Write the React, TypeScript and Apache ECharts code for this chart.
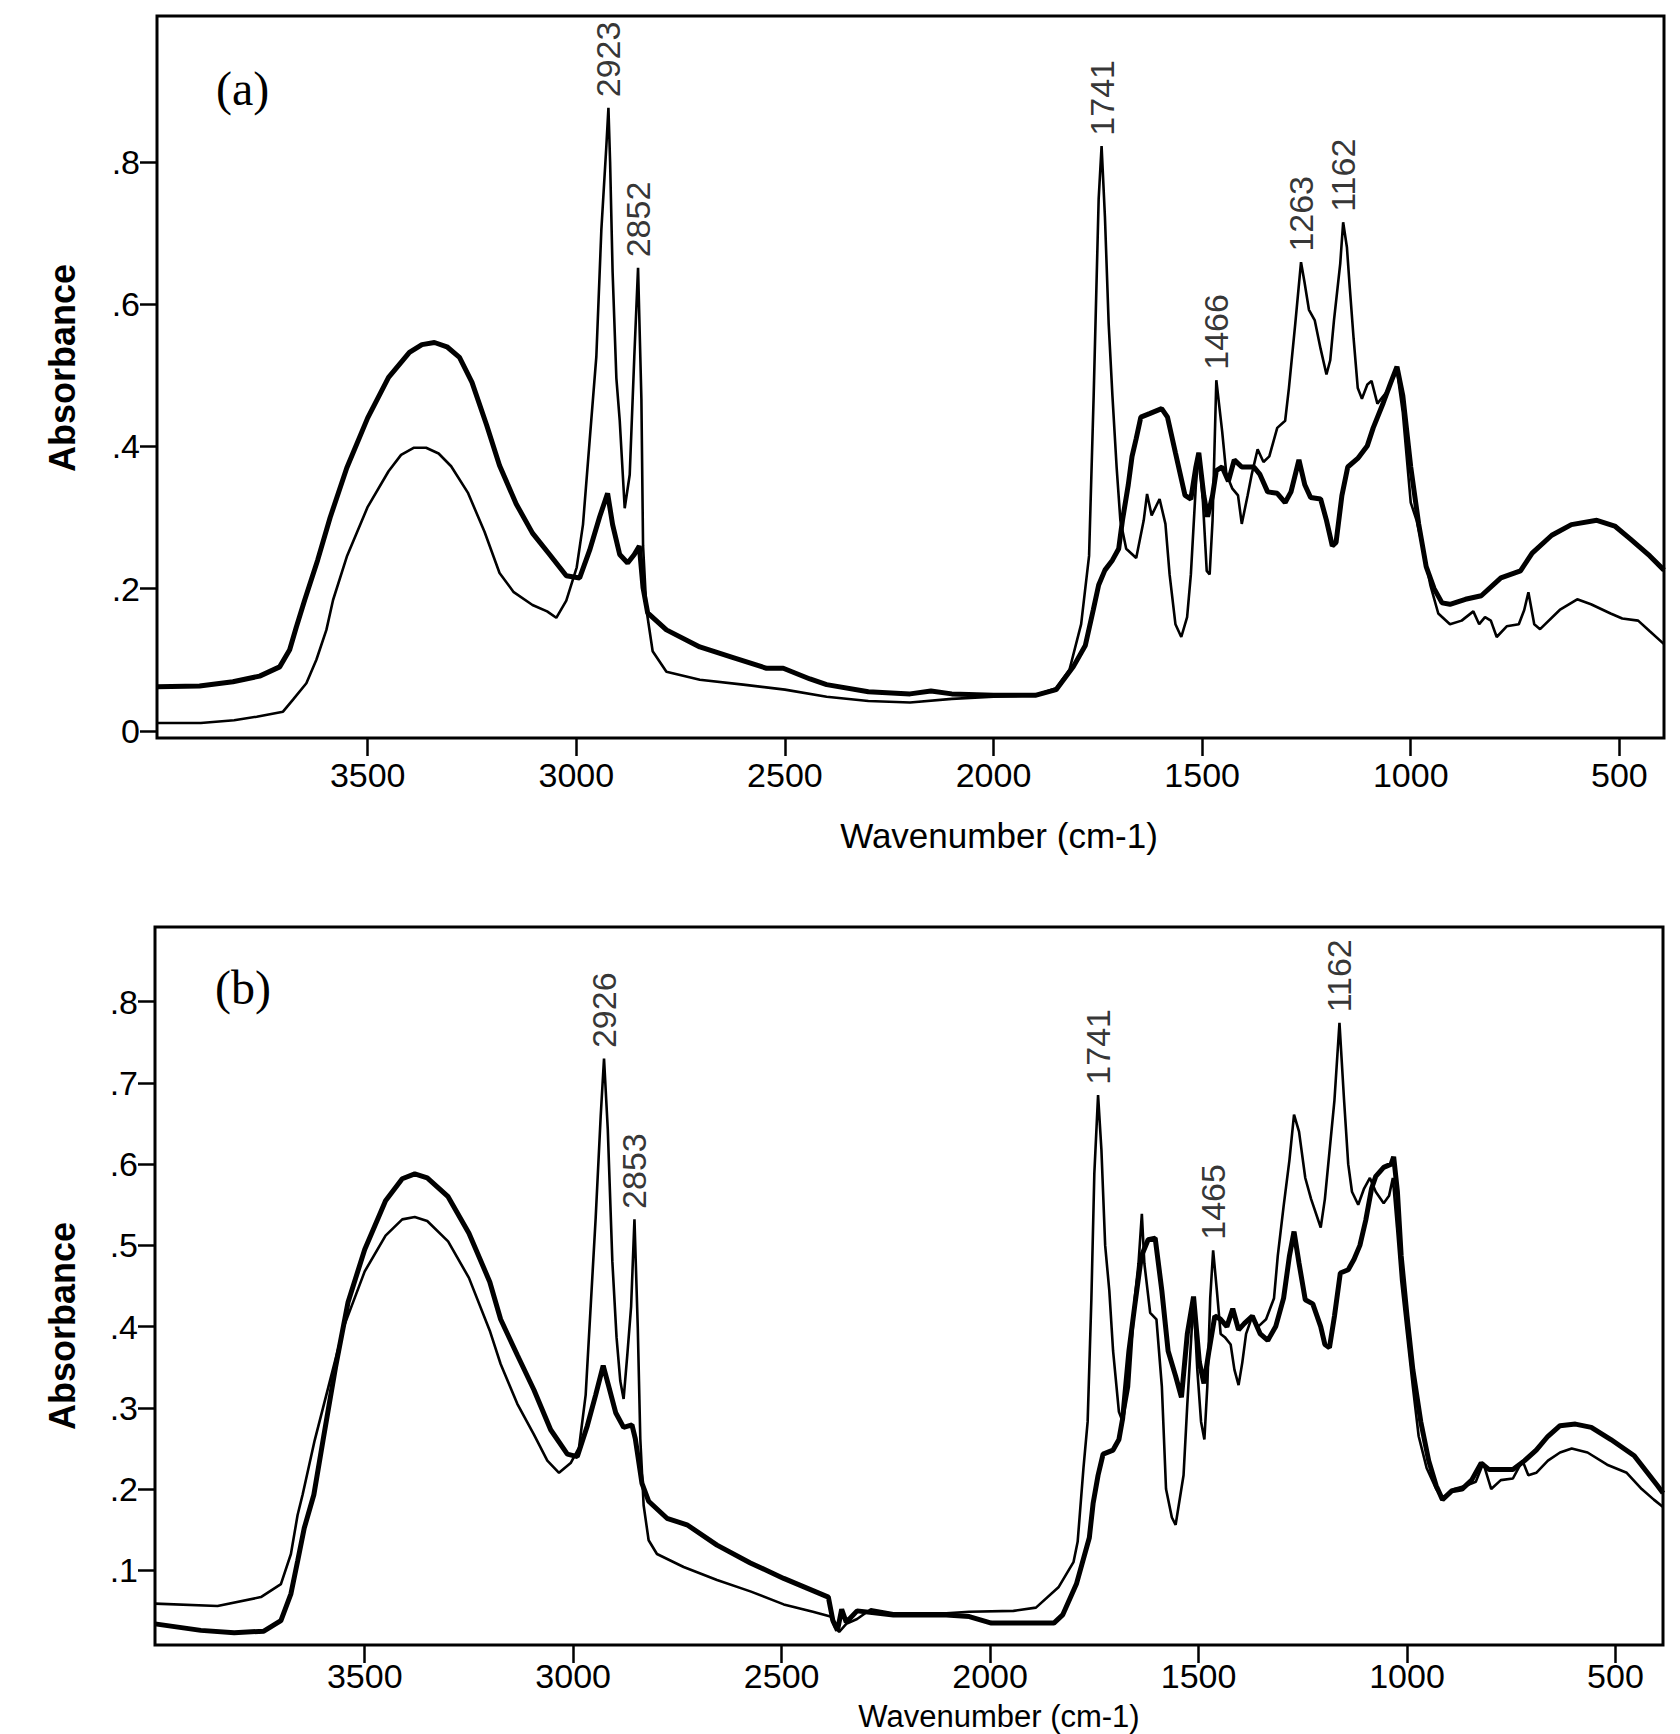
import React, { useEffect, useRef } from "react";
import * as echarts from "echarts";

// ---------- data (wavenumber cm-1, absorbance) ----------
const THIN_A: [number, number][] = [
  [4005, 0.011], [3900, 0.011], [3820, 0.015], [3766, 0.02], [3703, 0.027], [3679, 0.044], [3647, 0.067],
  [3623, 0.1], [3599, 0.142], [3583, 0.184], [3550, 0.245], [3500, 0.315], [3450, 0.365], [3420, 0.388],
  [3390, 0.398], [3360, 0.398], [3330, 0.39], [3300, 0.372], [3260, 0.335], [3220, 0.28], [3184, 0.222],
  [3150, 0.195], [3105, 0.177], [3070, 0.168], [3048, 0.159], [3024, 0.183], [2999, 0.23], [2984, 0.29],
  [2968, 0.408], [2952, 0.526], [2940, 0.704], [2928, 0.822], [2923, 0.876], [2919, 0.8], [2913, 0.645],
  [2904, 0.496], [2896, 0.437], [2884, 0.313], [2872, 0.36], [2861, 0.526], [2852, 0.651], [2844, 0.467],
  [2840, 0.26], [2832, 0.171], [2817, 0.112], [2784, 0.083], [2704, 0.072], [2600, 0.065], [2500, 0.058],
  [2400, 0.048], [2300, 0.042], [2200, 0.04], [2100, 0.045], [2000, 0.048], [1900, 0.05], [1850, 0.06],
  [1818, 0.086], [1790, 0.15], [1771, 0.246], [1760, 0.471], [1748, 0.748], [1741, 0.822], [1733, 0.723],
  [1724, 0.572], [1715, 0.471], [1705, 0.371], [1696, 0.296], [1682, 0.256], [1658, 0.243], [1640, 0.296],
  [1632, 0.333], [1621, 0.303], [1602, 0.326], [1588, 0.291], [1578, 0.22], [1564, 0.15], [1550, 0.132],
  [1536, 0.16], [1527, 0.22], [1515, 0.346], [1508, 0.391], [1498, 0.321], [1489, 0.225], [1482, 0.22],
  [1475, 0.296], [1466, 0.493], [1452, 0.421], [1442, 0.361], [1428, 0.341], [1414, 0.331], [1405, 0.291],
  [1391, 0.331], [1381, 0.361], [1367, 0.396], [1353, 0.378], [1339, 0.386], [1320, 0.426], [1301, 0.436],
  [1292, 0.482], [1277, 0.571], [1263, 0.659], [1255, 0.632], [1244, 0.592], [1230, 0.577], [1216, 0.537],
  [1202, 0.501], [1193, 0.521], [1184, 0.577], [1169, 0.657], [1162, 0.715], [1153, 0.68], [1146, 0.622],
  [1137, 0.552], [1127, 0.482], [1117, 0.467], [1104, 0.487], [1094, 0.492], [1080, 0.46], [1057, 0.477],
  [1033, 0.507], [1019, 0.447], [1000, 0.321], [986, 0.296], [967, 0.246], [953, 0.205], [934, 0.165],
  [906, 0.15], [878, 0.155], [850, 0.168], [836, 0.15], [822, 0.16], [808, 0.155], [794, 0.132],
  [770, 0.147], [741, 0.15], [728, 0.17], [718, 0.195], [704, 0.15], [690, 0.143], [643, 0.17],
  [601, 0.185], [568, 0.178], [521, 0.165], [493, 0.158], [455, 0.155], [427, 0.14], [393, 0.122],
];

const THICK_A: [number, number][] = [
  [4005, 0.062], [3903, 0.063], [3823, 0.069], [3759, 0.077], [3711, 0.09], [3687, 0.114], [3671, 0.146],
  [3651, 0.184], [3620, 0.24], [3590, 0.3], [3550, 0.37], [3500, 0.44], [3450, 0.497], [3400, 0.532],
  [3370, 0.543], [3340, 0.546], [3310, 0.54], [3280, 0.525], [3250, 0.49], [3215, 0.43], [3184, 0.373],
  [3144, 0.319], [3105, 0.278], [3064, 0.248], [3024, 0.218], [2992, 0.215], [2968, 0.254], [2944, 0.301],
  [2925, 0.334], [2913, 0.29], [2896, 0.248], [2877, 0.236], [2861, 0.248], [2849, 0.26], [2840, 0.201],
  [2829, 0.166], [2784, 0.142], [2704, 0.118], [2624, 0.103], [2544, 0.088], [2504, 0.088], [2440, 0.073],
  [2400, 0.065], [2300, 0.055], [2200, 0.052], [2150, 0.056], [2100, 0.052], [2000, 0.05], [1900, 0.05],
  [1850, 0.058], [1809, 0.09], [1780, 0.12], [1761, 0.17], [1748, 0.205], [1733, 0.226], [1715, 0.24],
  [1700, 0.256], [1691, 0.296], [1677, 0.346], [1668, 0.386], [1658, 0.411], [1647, 0.441], [1626, 0.446],
  [1597, 0.453], [1583, 0.441], [1564, 0.391], [1541, 0.331], [1527, 0.326], [1515, 0.371], [1508, 0.391],
  [1496, 0.331], [1487, 0.301], [1475, 0.331], [1466, 0.366], [1452, 0.371], [1437, 0.351], [1423, 0.381],
  [1405, 0.371], [1376, 0.371], [1362, 0.361], [1343, 0.336], [1320, 0.334], [1301, 0.321], [1287, 0.336],
  [1268, 0.381], [1254, 0.346], [1240, 0.328], [1216, 0.326], [1202, 0.296], [1188, 0.26], [1179, 0.265],
  [1165, 0.331], [1151, 0.371], [1127, 0.383], [1104, 0.401], [1090, 0.426], [1066, 0.461], [1047, 0.491],
  [1033, 0.512], [1019, 0.471], [1000, 0.371], [981, 0.291], [963, 0.231], [944, 0.2], [925, 0.18],
  [906, 0.178], [869, 0.185], [831, 0.19], [784, 0.215], [737, 0.225], [709, 0.25], [662, 0.275],
  [615, 0.29], [554, 0.296], [511, 0.288], [474, 0.27], [427, 0.246], [393, 0.226],
];

const THIN_B: [number, number][] = [
  [4003, 0.059], [3853, 0.056], [3749, 0.067], [3701, 0.083], [3677, 0.12], [3661, 0.168], [3649, 0.193],
  [3620, 0.26], [3600, 0.3], [3550, 0.4], [3500, 0.468], [3450, 0.512], [3410, 0.532], [3380, 0.535],
  [3350, 0.53], [3300, 0.505], [3250, 0.46], [3200, 0.395], [3174, 0.354], [3134, 0.305], [3094, 0.267],
  [3062, 0.235], [3034, 0.22], [3006, 0.232], [2986, 0.251], [2970, 0.316], [2958, 0.425], [2946, 0.534],
  [2934, 0.659], [2926, 0.73], [2917, 0.643], [2906, 0.48], [2896, 0.387], [2887, 0.333], [2879, 0.311],
  [2870, 0.366], [2861, 0.425], [2853, 0.532], [2845, 0.398], [2839, 0.262], [2831, 0.18], [2819, 0.137],
  [2799, 0.12], [2735, 0.104], [2655, 0.088], [2575, 0.074], [2495, 0.058], [2425, 0.049], [2383, 0.043],
  [2372, 0.03], [2362, 0.024], [2345, 0.034], [2319, 0.04], [2286, 0.052], [2232, 0.047], [2105, 0.047],
  [2050, 0.049], [1944, 0.05], [1890, 0.054], [1836, 0.079], [1800, 0.11], [1790, 0.135], [1776, 0.226],
  [1766, 0.283], [1757, 0.435], [1750, 0.588], [1741, 0.685], [1733, 0.618], [1724, 0.5], [1714, 0.444],
  [1705, 0.37], [1691, 0.295], [1682, 0.283], [1667, 0.326], [1653, 0.435], [1644, 0.478], [1636, 0.539],
  [1630, 0.478], [1616, 0.417], [1601, 0.409], [1588, 0.326], [1578, 0.2], [1564, 0.165], [1555, 0.156],
  [1536, 0.217], [1527, 0.304], [1517, 0.391], [1512, 0.435], [1503, 0.347], [1494, 0.283], [1486, 0.261],
  [1479, 0.326], [1472, 0.435], [1465, 0.494], [1456, 0.444], [1447, 0.391], [1437, 0.387], [1423, 0.378],
  [1414, 0.347], [1404, 0.328], [1395, 0.356], [1386, 0.391], [1371, 0.413], [1357, 0.4], [1338, 0.409],
  [1319, 0.435], [1310, 0.487], [1296, 0.548], [1282, 0.605], [1271, 0.661], [1259, 0.64], [1244, 0.583],
  [1230, 0.557], [1207, 0.522], [1197, 0.557], [1183, 0.631], [1174, 0.679], [1162, 0.774], [1151, 0.679],
  [1141, 0.6], [1132, 0.566], [1117, 0.55], [1103, 0.57], [1089, 0.583], [1075, 0.566], [1056, 0.552],
  [1043, 0.561], [1034, 0.583], [1024, 0.522], [1014, 0.457], [1000, 0.391], [986, 0.326], [972, 0.265],
  [953, 0.226], [930, 0.2], [915, 0.189], [887, 0.2], [859, 0.204], [835, 0.209], [817, 0.232], [798, 0.2],
  [775, 0.211], [746, 0.213], [723, 0.235], [709, 0.217], [690, 0.22], [662, 0.235], [633, 0.245],
  [605, 0.25], [567, 0.245], [520, 0.23], [473, 0.22], [437, 0.2], [408, 0.187], [386, 0.178],
];

const THICK_B: [number, number][] = [
  [4003, 0.034], [3893, 0.026], [3813, 0.023], [3742, 0.025], [3701, 0.038], [3677, 0.071], [3661, 0.111],
  [3645, 0.152], [3622, 0.193], [3600, 0.26], [3570, 0.35], [3540, 0.43], [3500, 0.495], [3450, 0.555],
  [3410, 0.582], [3380, 0.588], [3350, 0.583], [3300, 0.56], [3250, 0.515], [3200, 0.455], [3174, 0.409],
  [3134, 0.365], [3094, 0.322], [3054, 0.273], [3014, 0.243], [2990, 0.24], [2966, 0.278], [2946, 0.316],
  [2928, 0.352], [2915, 0.327], [2898, 0.294], [2879, 0.276], [2859, 0.279], [2851, 0.262], [2835, 0.207],
  [2819, 0.185], [2775, 0.164], [2727, 0.156], [2655, 0.131], [2575, 0.109], [2495, 0.09], [2425, 0.075],
  [2388, 0.067], [2377, 0.038], [2366, 0.026], [2356, 0.052], [2345, 0.036], [2319, 0.05], [2232, 0.045],
  [2105, 0.045], [2050, 0.043], [1997, 0.035], [1847, 0.035], [1826, 0.045], [1793, 0.083], [1762, 0.14],
  [1753, 0.182], [1741, 0.217], [1729, 0.243], [1705, 0.248], [1691, 0.261], [1682, 0.287], [1667, 0.37],
  [1653, 0.426], [1637, 0.487], [1621, 0.507], [1604, 0.509], [1588, 0.444], [1573, 0.37], [1555, 0.339],
  [1541, 0.313], [1527, 0.391], [1512, 0.437], [1498, 0.356], [1487, 0.33], [1475, 0.37], [1461, 0.413],
  [1447, 0.409], [1432, 0.4], [1418, 0.422], [1404, 0.396], [1390, 0.404], [1371, 0.413], [1352, 0.391],
  [1334, 0.383], [1315, 0.4], [1296, 0.435], [1282, 0.487], [1271, 0.517], [1259, 0.478], [1244, 0.433],
  [1226, 0.428], [1207, 0.4], [1197, 0.378], [1186, 0.374], [1174, 0.413], [1160, 0.466], [1141, 0.47],
  [1127, 0.483], [1113, 0.5], [1099, 0.531], [1085, 0.57], [1075, 0.585], [1056, 0.596], [1038, 0.6],
  [1032, 0.609], [1023, 0.566], [1014, 0.487], [1000, 0.413], [986, 0.347], [967, 0.283], [948, 0.235],
  [930, 0.204], [915, 0.187], [892, 0.198], [868, 0.2], [845, 0.211], [822, 0.232], [803, 0.224],
  [746, 0.224], [718, 0.235], [690, 0.248], [662, 0.265], [633, 0.278], [596, 0.28], [558, 0.276],
  [511, 0.261], [455, 0.241], [399, 0.204], [386, 0.195],
];

const PEAKS_A = [2923, 2852, 1741, 1466, 1263, 1162];
const PEAKS_B = [2926, 2853, 1741, 1465, 1162];
const X_TICKS = [3500, 3000, 2500, 2000, 1500, 1000, 500];
const Y_TICKS_A = [0, 0.2, 0.4, 0.6, 0.8];
const Y_TICKS_B = [0.1, 0.2, 0.3, 0.4, 0.5, 0.6, 0.7, 0.8];

// ---------- styling ----------
const SANS = '"Liberation Sans", Arial, Helvetica, sans-serif';
const SERIF = '"Liberation Serif", "Times New Roman", serif';
const TICK_FONT = 34;

function peakValue(series: [number, number][], wn: number): number {
  let best = series[0];
  for (const p of series) {
    if (Math.abs(p[0] - wn) < Math.abs(best[0] - wn)) best = p;
  }
  return best[1];
}

function fmtY(v: number): string {
  if (Math.abs(v) < 1e-9) return "0";
  return v.toFixed(1).replace(/^0/, "");
}

function xAxisFor(gridIndex: number, min: number, max: number, margin: number) {
  return {
    type: "value",
    gridIndex,
    inverse: true,
    min,
    max,
    axisLine: { show: false, onZero: false },
    axisTick: {
      show: true,
      customValues: X_TICKS,
      length: 18,
      inside: false,
      lineStyle: { color: "#000", width: 2.5 },
    },
    axisLabel: {
      customValues: X_TICKS,
      margin,
      fontSize: TICK_FONT,
      fontFamily: SANS,
      color: "#000",
      formatter: (v: number) => String(Math.round(v)),
    },
    splitLine: { show: false },
  };
}

function yAxisFor(gridIndex: number, min: number, max: number, ticks: number[]) {
  return {
    type: "value",
    gridIndex,
    min,
    max,
    axisLine: { show: false, onZero: false },
    axisTick: {
      show: true,
      customValues: ticks,
      length: 17,
      inside: false,
      lineStyle: { color: "#000", width: 2.5 },
    },
    axisLabel: {
      customValues: ticks,
      margin: 17,
      fontSize: TICK_FONT,
      fontFamily: SANS,
      color: "#000",
      formatter: (v: number) => fmtY(v),
    },
    splitLine: { show: false },
  };
}

function lineSeries(data: [number, number][], idx: number, width: number) {
  return {
    type: "line",
    xAxisIndex: idx,
    yAxisIndex: idx,
    data,
    showSymbol: false,
    symbol: "none",
    lineStyle: { color: "#000", width },
    silent: true,
  };
}

function peakLabels(peaks: number[], ref: [number, number][], idx: number) {
  return {
    type: "scatter",
    xAxisIndex: idx,
    yAxisIndex: idx,
    symbol: "circle",
    symbolSize: 1,
    itemStyle: { color: "rgba(0,0,0,0)" },
    silent: true,
    data: peaks.map((p) => ({ name: String(p), value: [p, peakValue(ref, p)] })),
    label: {
      show: true,
      formatter: "{b}",
      position: "top",
      distance: 10,
      rotate: 90,
      align: "left",
      verticalAlign: "middle",
      fontSize: TICK_FONT,
      fontFamily: SANS,
      color: "#000",
    },
  };
}

function buildOption() {
  const gridBase = {
    show: true,
    borderColor: "#000",
    borderWidth: 3,
    backgroundColor: "transparent",
    containLabel: false,
  };
  return {
    animation: false,
    backgroundColor: "#fff",
    grid: [
      { ...gridBase, left: 157, top: 16, width: 1507, height: 722 },
      { ...gridBase, left: 155, top: 927, width: 1508, height: 718 },
    ],
    xAxis: [xAxisFor(0, 393, 4005, 20), xAxisFor(1, 386, 4003, 14)],
    yAxis: [
      yAxisFor(0, -0.01, 1.005, Y_TICKS_A),
      yAxisFor(1, 0.008, 0.892, Y_TICKS_B),
    ],
    series: [
      lineSeries(THIN_A, 0, 2.6),
      lineSeries(THICK_A, 0, 5),
      lineSeries(THIN_B, 1, 2.6),
      lineSeries(THICK_B, 1, 5),
      peakLabels(PEAKS_A, THIN_A, 0),
      peakLabels(PEAKS_B, THIN_B, 1),
    ],
    graphic: [
      {
        type: "text",
        x: 216,
        y: 88,
        style: { text: "(a)", fontSize: 48, fontFamily: SERIF, fill: "#000", align: "left", verticalAlign: "middle" },
      },
      {
        type: "text",
        x: 215,
        y: 987,
        style: { text: "(b)", fontSize: 48, fontFamily: SERIF, fill: "#000", align: "left", verticalAlign: "middle" },
      },
      {
        type: "text",
        x: 62,
        y: 368,
        rotation: Math.PI / 2,
        style: {
          text: "Absorbance",
          fontSize: 36,
          fontWeight: "bold",
          fontFamily: SANS,
          fill: "#000",
          align: "center",
          verticalAlign: "middle",
        },
      },
      {
        type: "text",
        x: 62,
        y: 1326,
        rotation: Math.PI / 2,
        style: {
          text: "Absorbance",
          fontSize: 36,
          fontWeight: "bold",
          fontFamily: SANS,
          fill: "#000",
          align: "center",
          verticalAlign: "middle",
        },
      },
      {
        type: "text",
        x: 999,
        y: 835,
        style: {
          text: "Wavenumber (cm-1)",
          fontSize: 35,
          fontFamily: SANS,
          fill: "#000",
          align: "center",
          verticalAlign: "middle",
        },
      },
      {
        type: "text",
        x: 999,
        y: 1716,
        style: {
          text: "Wavenumber (cm-1)",
          fontSize: 31,
          fontFamily: SANS,
          fill: "#000",
          align: "center",
          verticalAlign: "middle",
        },
      },
    ],
  };
}

export default function App() {
  const ref = useRef<HTMLDivElement>(null);
  useEffect(() => {
    if (!ref.current) return;
    const chart = echarts.init(ref.current, null, { renderer: "svg" });
    chart.setOption(buildOption() as any);
    return () => chart.dispose();
  }, []);
  return (
    <div
      ref={ref}
      style={{ position: "absolute", left: 0, top: 0, width: 1680, height: 1734, background: "#fff", overflow: "hidden" }}
    />
  );
}
